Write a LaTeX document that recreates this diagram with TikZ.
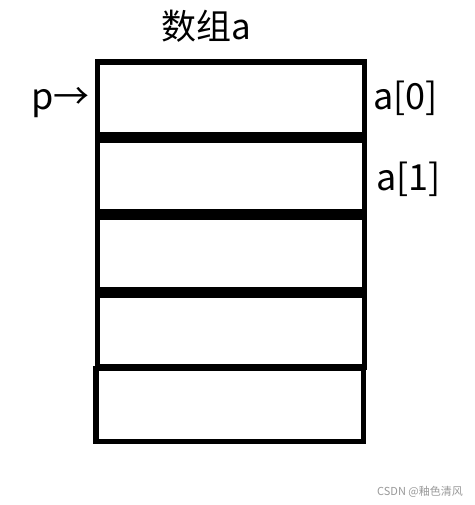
\documentclass[tikz,border=0pt]{standalone}
\usepackage{fontspec}
\newfontfamily\cjk{Noto Sans CJK SC}
\begin{document}
\begin{tikzpicture}[x=1pt,y=-1pt,
  cell/.style={draw=black,line width=5.5pt},
  lbl/.style={font=\cjk\fontsize{36}{36}\selectfont,inner sep=0pt,anchor=base west},
  ttl/.style={font=\cjk\fontsize{35}{35}\selectfont,inner sep=0pt,anchor=base west},
  wmark/.style={font=\cjk\fontsize{11}{11}\selectfont,text=black!40,inner sep=0pt,anchor=base west}]
\useasboundingbox[fill=white] (0,0) rectangle (474,505);
\draw[cell] (97.5,62) rectangle (364.5,134.75);
\draw[cell] (97.5,140.25) rectangle (364.5,211.75);
\draw[cell] (97.5,217.25) rectangle (364.5,289.75);
\draw[cell] (97.5,295.25) rectangle (364.5,367);
\draw[cell] (96,368.5) rectangle (363.5,441.5);
\node[ttl] (title) at (161,40) {数组a};
\node[lbl] (p) at (31,110) {p→};
\node[lbl] (a0) at (373,110) {a[0]};
\node[lbl] (a1) at (376,190) {a[1]};
\node[wmark] (wm) at (377,495) {CSDN @釉色清风};
\end{tikzpicture}
\end{document}
